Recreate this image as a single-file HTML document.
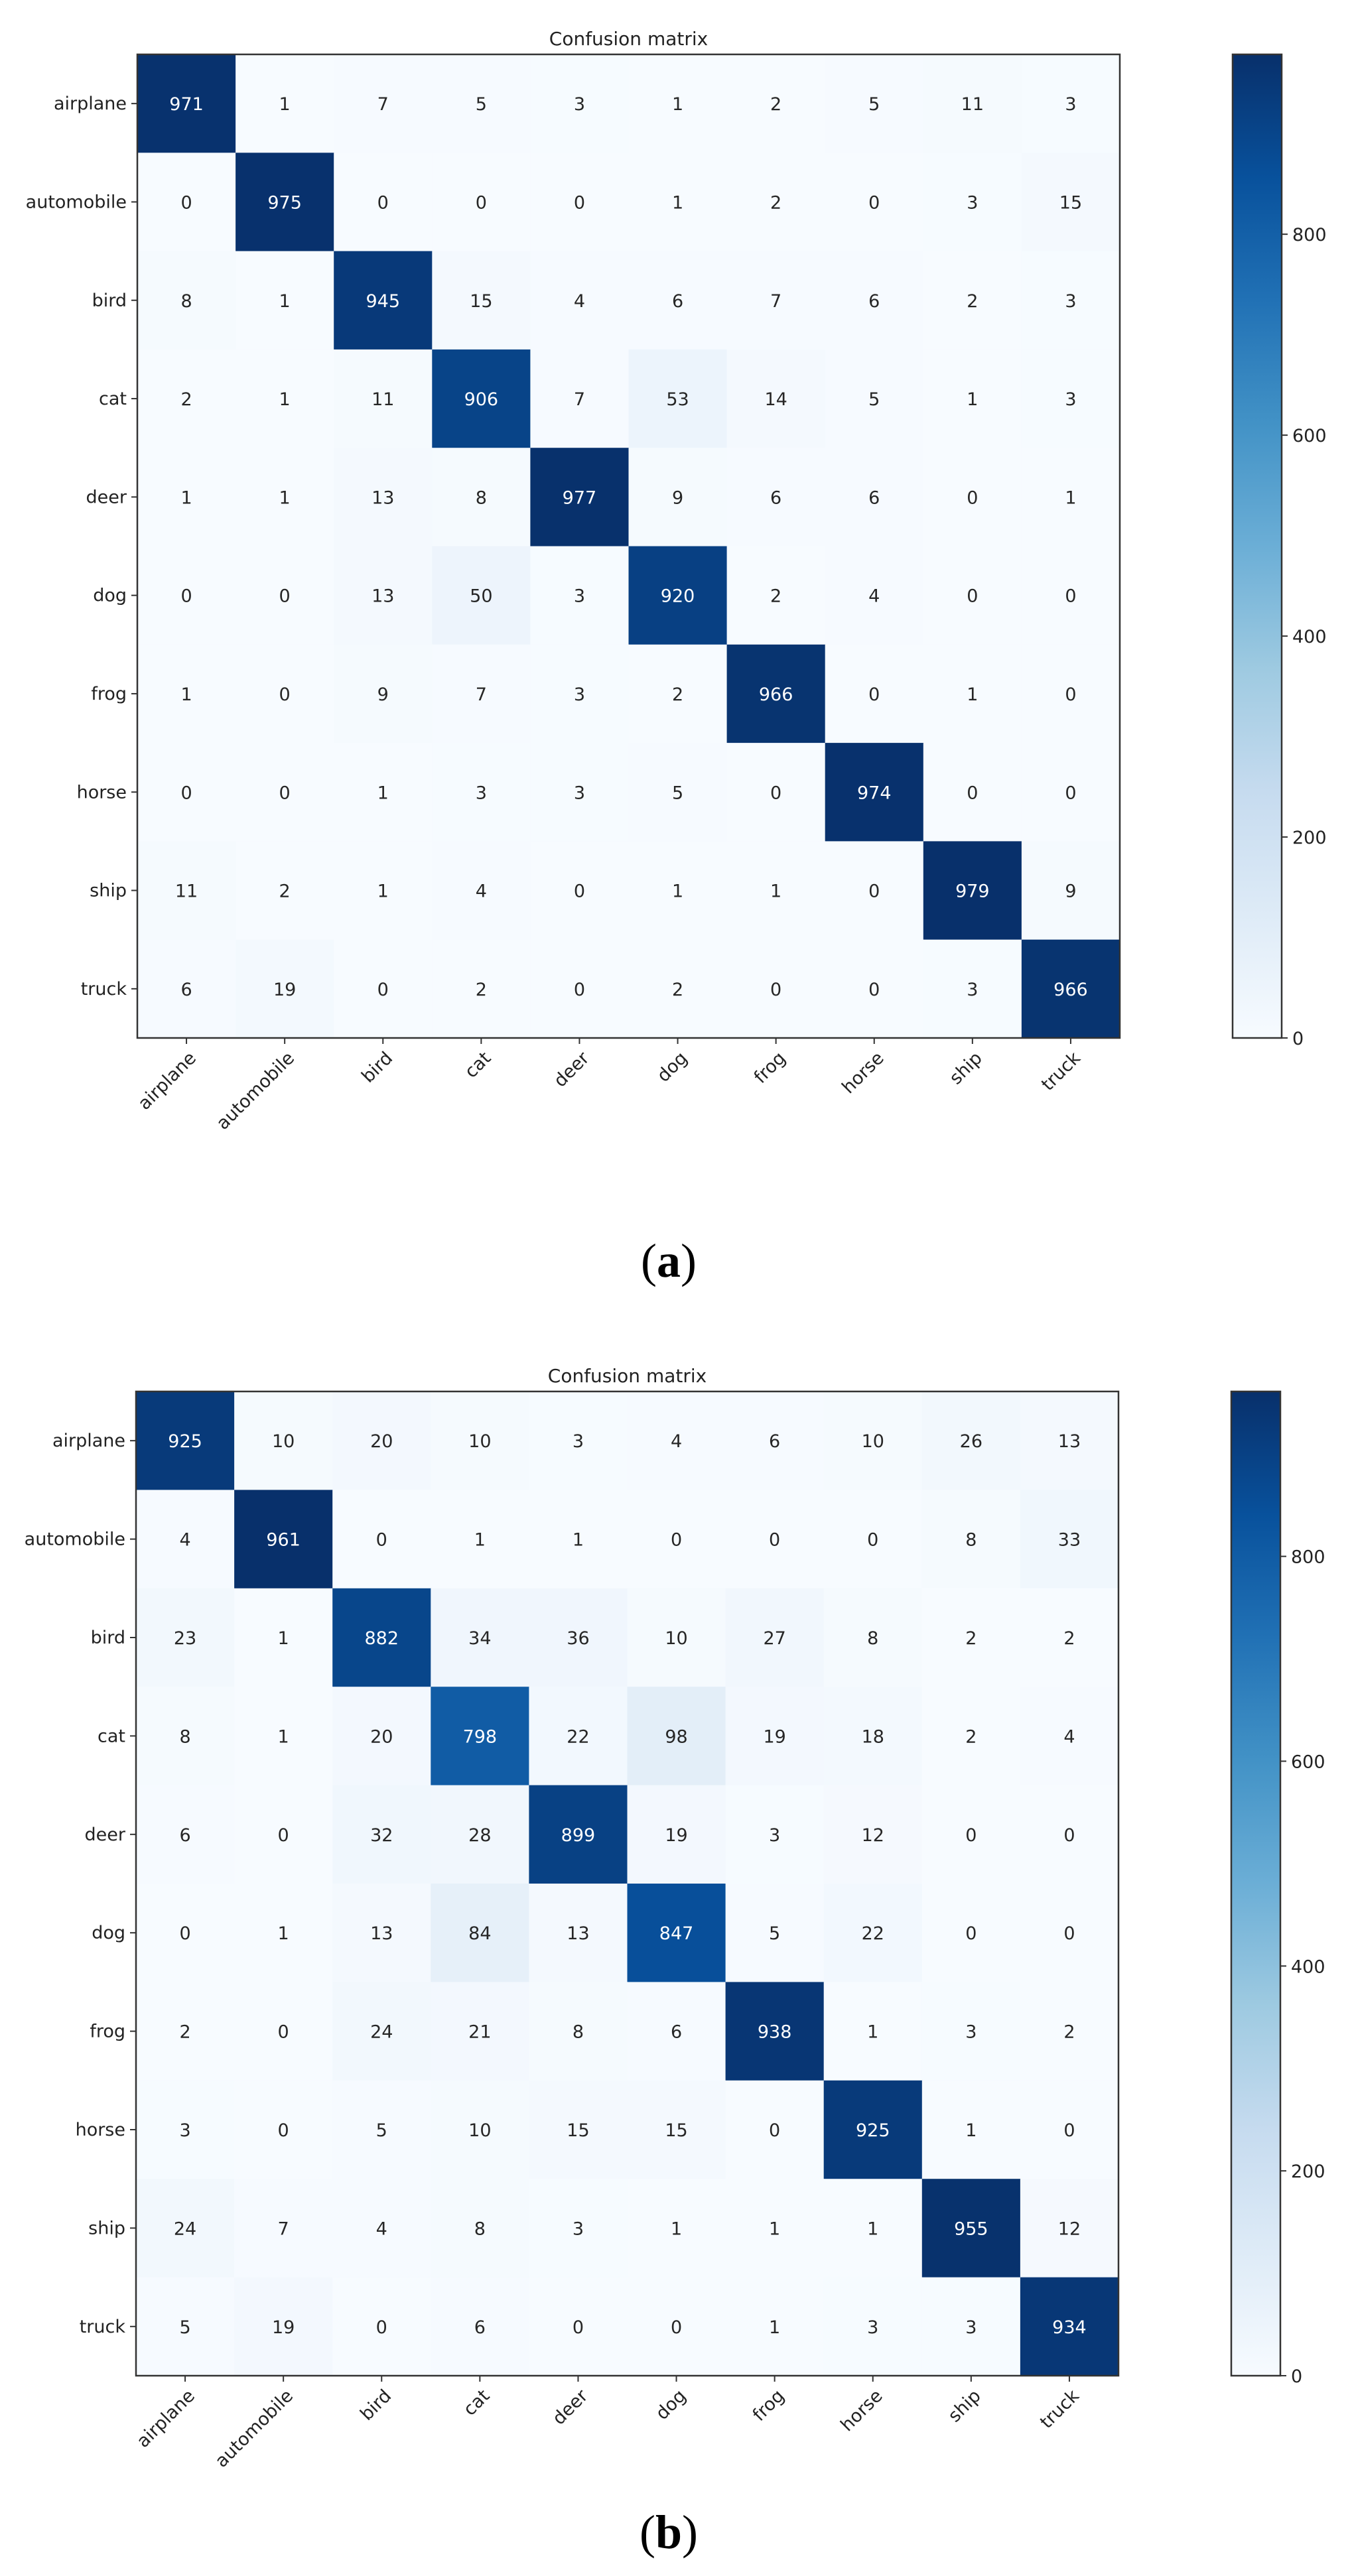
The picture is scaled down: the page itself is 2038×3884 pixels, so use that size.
<!DOCTYPE html>
<html><head><meta charset="utf-8"><style>
html,body{margin:0;padding:0;background:#fff;}
svg{display:block;}
</style></head><body>
<svg id="s" width="2038" height="3884" xmlns="http://www.w3.org/2000/svg">
<defs>
<linearGradient id="g" x1="0" y1="1" x2="0" y2="0">
<stop offset="0" stop-color="#f7fbff"/><stop offset="0.125" stop-color="#deebf7"/>
<stop offset="0.25" stop-color="#c6dbef"/><stop offset="0.375" stop-color="#9ecae1"/>
<stop offset="0.5" stop-color="#6baed6"/><stop offset="0.625" stop-color="#4292c6"/>
<stop offset="0.75" stop-color="#2171b5"/><stop offset="0.875" stop-color="#08519c"/>
<stop offset="1" stop-color="#08306b"/>
</linearGradient>
</defs>
<text x="1008" y="1925" text-anchor="middle" font-family="Liberation Serif, serif" font-size="72">(<tspan font-weight="bold">a</tspan>)</text>
<text x="1008" y="3842" text-anchor="middle" font-family="Liberation Serif, serif" font-size="72">(<tspan font-weight="bold">b</tspan>)</text>
</svg>
<script>
var NS="http://www.w3.org/2000/svg",s=document.getElementById("s");
function el(t,a,txt){var e=document.createElementNS(NS,t);for(var k in a)e.setAttribute(k,a[k]);if(txt!=null)e.textContent=txt;s.appendChild(e);return e;}
var stops=[[247,251,255],[222,235,247],[198,219,239],[158,202,225],[107,174,214],[66,146,198],[33,113,181],[8,81,156],[8,48,107]];
function col(t){t=Math.max(0,Math.min(1,t));var p=t*8,i=Math.min(7,Math.floor(p)),f=p-i,a=stops[i],b=stops[i+1];
return "rgb("+[0,1,2].map(function(k){return Math.round(a[k]+(b[k]-a[k])*f)}).join(",")+")";}
var L=["airplane","automobile","bird","cat","deer","dog","frog","horse","ship","truck"];
var A=[[971,1,7,5,3,1,2,5,11,3],[0,975,0,0,0,1,2,0,3,15],[8,1,945,15,4,6,7,6,2,3],[2,1,11,906,7,53,14,5,1,3],[1,1,13,8,977,9,6,6,0,1],[0,0,13,50,3,920,2,4,0,0],[1,0,9,7,3,2,966,0,1,0],[0,0,1,3,3,5,0,974,0,0],[11,2,1,4,0,1,1,0,979,9],[6,19,0,2,0,2,0,0,3,966]];
var B=[[925,10,20,10,3,4,6,10,26,13],[4,961,0,1,1,0,0,0,8,33],[23,1,882,34,36,10,27,8,2,2],[8,1,20,798,22,98,19,18,2,4],[6,0,32,28,899,19,3,12,0,0],[0,1,13,84,13,847,5,22,0,0],[2,0,24,21,8,6,938,1,3,2],[3,0,5,10,15,15,0,925,1,0],[24,7,4,8,3,1,1,1,955,12],[5,19,0,6,0,0,1,3,3,934]];
var F="DejaVu Sans, Liberation Sans, sans-serif";
function draw(M,x0,y0,x1,y1,cx0,cx1,mx){
 var w=(x1-x0)/10,h=(y1-y0)/10;
 el("text",{x:(x0+x1)/2,y:y0-14,"text-anchor":"middle","font-family":F,"font-size":28,fill:"#222"},"Confusion matrix");
 for(var r=0;r<10;r++)for(var c=0;c<10;c++){var v=M[r][c];
  el("rect",{x:x0+c*w,y:y0+r*h,width:w+0.6,height:h+0.6,fill:col(v/mx)});
  el("text",{x:x0+(c+.5)*w,y:y0+(r+.5)*h+10,"text-anchor":"middle","font-family":F,"font-size":27,fill:v>mx/2?"#fff":"#262626"},String(v));}
 el("rect",{x:x0,y:y0,width:x1-x0,height:y1-y0,fill:"none",stroke:"#333","stroke-width":2.5});
 for(var i=0;i<10;i++){var yc=y0+(i+.5)*h,xc=x0+(i+.5)*w;
  el("line",{x1:x0-9,y1:yc,x2:x0,y2:yc,stroke:"#333","stroke-width":2});
  el("text",{x:x0-16,y:yc+9,"text-anchor":"end","font-family":F,"font-size":27,fill:"#222"},L[i]);
  el("line",{x1:xc,y1:y1,x2:xc,y2:y1+9,stroke:"#333","stroke-width":2});
  el("text",{x:xc+16,y:y1+32,"text-anchor":"end","font-family":F,"font-size":27,fill:"#222",transform:"rotate(-45 "+(xc+16)+" "+(y1+32)+")"},L[i]);}
 el("rect",{x:cx0,y:y0,width:cx1-cx0,height:y1-y0,fill:"url(#g)",stroke:"#333","stroke-width":2.5});
 for(var t=0;t<=800;t+=200){var yy=y1-t/mx*(y1-y0);
  el("line",{x1:cx1,y1:yy,x2:cx1+9,y2:yy,stroke:"#333","stroke-width":2});
  el("text",{x:cx1+16,y:yy+10,"font-family":F,"font-size":27,fill:"#222"},String(t));}
}
draw(A,207,82,1688,1565,1858,1932,979);
draw(B,205,2098,1686,3582,1856,1930,961);
</script>
</body></html>
